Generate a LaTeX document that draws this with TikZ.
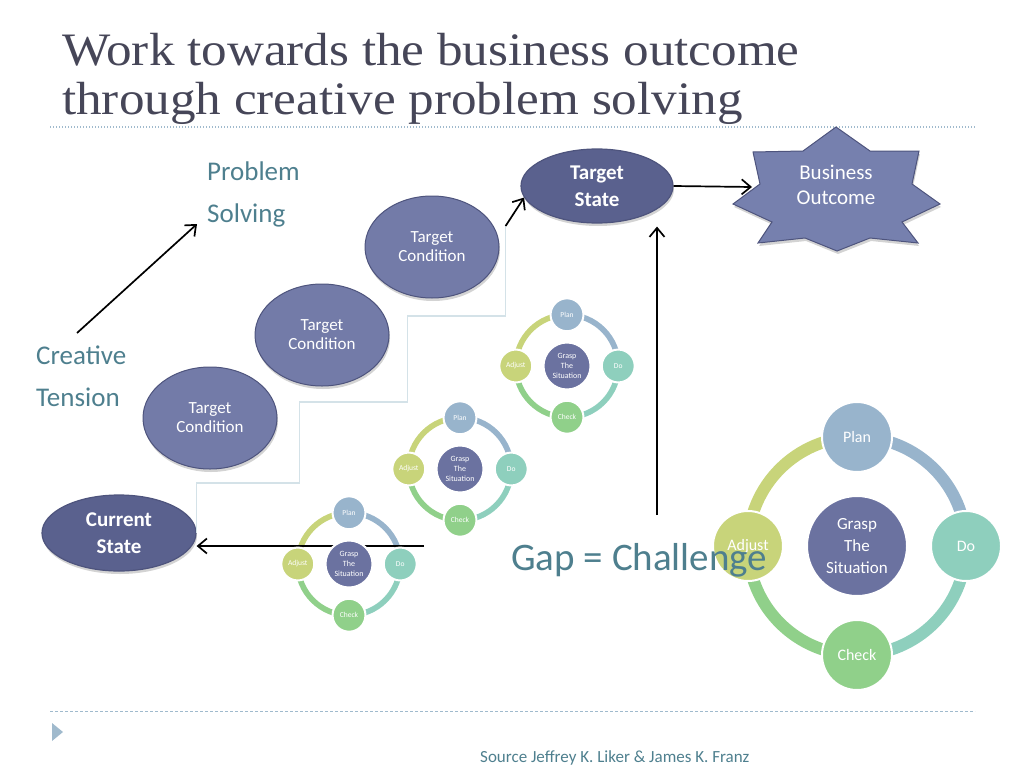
\documentclass[tikz,border=0pt]{standalone}
\usepackage{fontspec}
\setmainfont{Carlito}
\newfontfamily\titlefont[FakeStretch=1.1]{Liberation Serif}
\usetikzlibrary{shapes.geometric,arrows.meta,shadows,backgrounds}

\definecolor{slate}{RGB}{115,123,168}
\definecolor{starblue}{RGB}{118,128,174}
\definecolor{slatedark}{RGB}{90,97,142}
\definecolor{slaterim}{RGB}{78,84,125}
\definecolor{tealtext}{RGB}{78,127,142}
\definecolor{titlegray}{RGB}{70,70,88}
\definecolor{rulecol}{RGB}{160,186,205}
\definecolor{stairline}{RGB}{212,226,232}
\definecolor{plancol}{RGB}{152,180,204}
\definecolor{docol}{RGB}{142,207,189}
\definecolor{checkcol}{RGB}{144,208,138}
\definecolor{adjustcol}{RGB}{200,212,122}
\definecolor{graspcol}{RGB}{107,114,160}

\begin{document}
\begin{tikzpicture}[x=1pt,y=-1pt]
    % styles
    \tikzset{
      titletext/.style = {font=\titlefont\fontsize{46.5}{50}\selectfont, text=titlegray, inner sep=0pt},
      sidetext/.style  = {text=tealtext, font=\fontsize{27}{42}\selectfont, align=left, inner sep=0pt},
      gaptext/.style   = {text=tealtext, font=\fontsize{39}{42}\selectfont, inner sep=0pt},
      srctext/.style   = {text=tealtext, font=\fontsize{17}{19}\selectfont, inner sep=0pt},
      blobshadow/.style = {drop shadow={shadow xshift=1pt, shadow yshift=-3pt, opacity=0.35}},
      condblob/.style  = {ellipse, fill=slate, draw=slaterim, line width=1pt, blobshadow,
                          minimum width=134pt, minimum height=102pt, inner sep=0pt,
                          align=center, text=white, font=\fontsize{17}{19}\selectfont},
      stateblob/.style = {ellipse, fill=slatedark, draw=slaterim, line width=1.2pt, blobshadow,
                          inner sep=0pt, align=center, text=white,
                          font=\bfseries\fontsize{21}{27}\selectfont},
      bizstar/.style   = {fill=starblue, draw=slaterim, line width=1pt, line join=miter, blobshadow},
      biztext/.style   = {align=center, text=white, font=\fontsize{21}{25}\selectfont, inner sep=0pt},
      stair/.style     = {draw=stairline, line width=1.5pt},
      flow/.style      = {-{Straight Barb[length=9pt, width=15pt]}, line width=1.7pt, draw=black},
      grasp/.style     = {circle, fill=graspcol, draw=white, line width=2pt, minimum size=100pt,
                          inner sep=0pt, align=center, text=white, font=\fontsize{17}{22}\selectfont},
      pdcanode/.style  = {circle, fill=plancol, draw=white, line width=2pt, minimum size=70pt,
                          inner sep=0pt, text=white, font=\fontsize{16}{18}\selectfont},
      pdcaring/.style  = {line cap=butt}
    }
    \useasboundingbox (0,0) rectangle (1024,768);

    % Title and rules:
    \node[titletext, anchor=base west] (title1) at (62,65) {Work towards the business outcome};
    \node[titletext, anchor=base west] (title2) at (62,114) {through creative problem solving};
    \draw[draw=rulecol, line width=1.2pt, dash pattern=on 1.2pt off 1.8pt] (50,127) -- (975,127);
    \draw[draw=rulecol, line width=0.8pt, dash pattern=on 3pt off 2pt] (50,711) -- (975,711);
    \fill[rulecol] (52,723) -- (63,732) -- (52,741) -- cycle;
    \node[srctext, anchor=base west] (src) at (480,762) {Source Jeffrey K. Liker \& James K. Franz};

    % Creative tension:
    \node[sidetext, anchor=west] (probsolve) at (207,194) {Problem\\Solving};
    \node[sidetext, anchor=west] (creten) at (36,376) {Creative\\Tension};
    \coordinate (ct) at (77,333);
    \coordinate (ps) at (197,224);
    \draw[flow] (ct) -- (ps);

    % Staircase of target conditions:
    \node[condblob] (cond1) at (210,418) {Target\\Condition};
    \node[condblob] (cond2) at (322,335) {Target\\Condition};
    \node[condblob] (cond3) at (432,247) {Target\\Condition};
    \node[stateblob, minimum width=152pt, minimum height=74pt] (tstate) at (597,186) {Target\\State};
    \node[stateblob, minimum width=154pt, minimum height=76pt] (cstate) at (119,533) {Current\\State};

    \draw[stair] (cstate.east) -- ++(0,-50) -- ++(103,0) -- ++(0,-81) -- ++(108,0)
      -- ++(0,-86) -- ++(98,0) -- ++(0,-90) coordinate (stairtop);
    \draw[flow] (stairtop) -- (tstate.189);

    % Business outcome:
    \draw[bizstar] (836,127) -- (870,151) -- (919,151) -- (912,184) -- (940,204)
      -- (902,222) -- (918,243) -- (870,238) -- (837,251) -- (805,238) -- (758,243)
      -- (772,222) -- (733,204) -- (760,184) -- (753,152) -- (803,151) -- cycle;
    \node[biztext] (biz) at (836,185) {Business\\Outcome};
    \coordinate (bizin) at (752,187);
    \draw[flow] (tstate.east) -- (bizin);

    % Gap arrows:
    \coordinate (gapl) at (424,546);
    \draw[flow] (gapl) -- (gapl -| cstate.east);
    \coordinate (gapr) at (657,515);
    \draw[flow, shorten >=3pt] (gapr) -- (gapr |- tstate.south);

    % PDCA cycles:
    \foreach \cx/\cy/\sc/\id in {349/564/0.47/a, 460/469/0.47/b, 567/366/0.47/c, 857/546/1/d}{
      \begin{scope}[shift={(\cx,\cy)}, scale=\sc, transform shape]
        \node[grasp] (grasp\id) at (0,0) {Grasp\\The\\Situation};
        \node[pdcanode] (plan\id) at (0,-109) {Plan};
        \node[pdcanode, fill=docol] (do\id) at (109,0) {Do};
        \node[pdcanode, fill=checkcol] (check\id) at (0,109) {Check};
        \node[pdcanode, fill=adjustcol] (adjust\id) at (-109,0) {Adjust};
        \begin{scope}[on background layer]
          \draw[pdcaring, draw=plancol, line width=\sc*12pt] (plan\id.center) arc[start angle=-90, end angle=0, radius=109];
          \draw[pdcaring, draw=docol, line width=\sc*12pt] (do\id.center) arc[start angle=0, end angle=90, radius=109];
          \draw[pdcaring, draw=checkcol, line width=\sc*12pt] (check\id.center) arc[start angle=90, end angle=180, radius=109];
          \draw[pdcaring, draw=adjustcol, line width=\sc*12pt] (adjust\id.center) arc[start angle=180, end angle=270, radius=109];
        \end{scope}
      \end{scope}
    }

    \node[gaptext, anchor=base west] (gap) at (511,570) {Gap = Challenge};
\end{tikzpicture}
\end{document}
